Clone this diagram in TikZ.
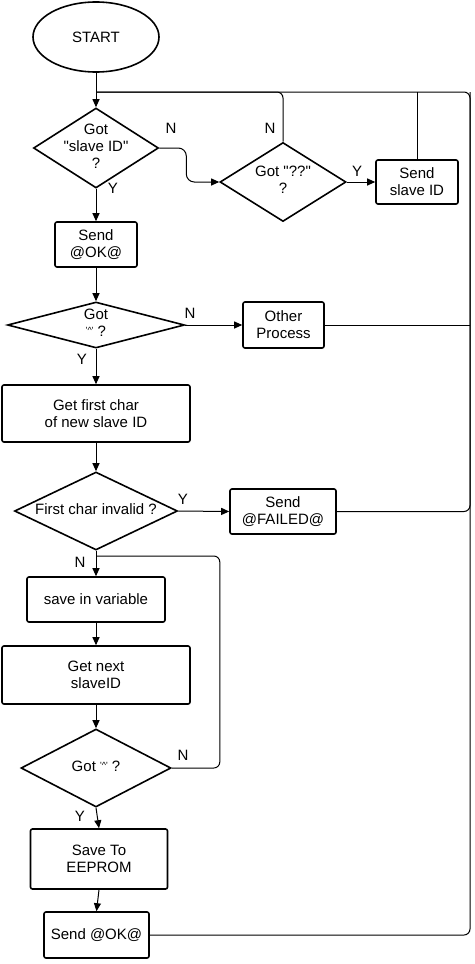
\documentclass[tikz,border=0pt]{standalone}
\usepackage{fontspec}
\setmainfont{Liberation Sans}
\usetikzlibrary{shapes.geometric,arrows.meta}
\newcommand{\dtxt}[1]{\makebox[0pt]{\begin{tabular}{@{}c@{}}#1\end{tabular}}}
\newcommand{\caret}{\raisebox{3pt}{\fontsize{9}{9}\selectfont\textquotesingle\textasciicircum\textquotesingle}}
\begin{document}
\begin{tikzpicture}[x=1pt,y=-1pt,font=\fontsize{15}{17}\selectfont,
	box/.style={draw,line width=1.6pt,rounded corners=2pt,align=center,inner sep=0pt},
	decision/.style={draw,diamond,line width=1.6pt,inner sep=0pt},
	line/.style={line width=1pt},
	arr/.style={line width=1pt,-{Triangle[length=8pt,width=7pt]}}]
		\useasboundingbox (0,0) rectangle (474,964);
		% nodes
		\node[draw,ellipse,line width=1.6pt,minimum width=126,minimum height=70] (start) at (96,37) {START};
		\node[decision,minimum width=125,minimum height=80] (d1) at (96,148) {\dtxt{Got\\\textquotedbl slave ID\textquotedbl\\?}};
		\node[decision,minimum width=126,minimum height=79] (d2) at (283,182) {\dtxt{Got \textquotedbl??\textquotedbl\\?}};
		\node[box,minimum width=82,minimum height=44] (sid) at (417,182) {Send\\slave ID};
		\node[box,minimum width=82,minimum height=45] (ok1) at (96,244.5) {Send\\@OK@};
		\node[decision,minimum width=177,minimum height=46] (d3) at (96,325) {\dtxt{Got\\\caret\ ?}};
		\node[box,minimum width=81,minimum height=46] (other) at (283.5,325) {Other\\Process};
		\node[box,minimum width=188,minimum height=57] (first) at (96,413.5) {Get first char\\of new slave ID};
		\node[decision,minimum width=163,minimum height=78] (d4) at (96,511) {\dtxt{First char invalid ?}};
		\node[box,minimum width=106,minimum height=45] (failed) at (283,511.5) {Send\\@FAILED@};
		\node[box,minimum width=138,minimum height=45] (save) at (96,599.5) {save in variable};
		\node[box,minimum width=188,minimum height=58] (next) at (96,675) {Get next\\slaveID};
		\node[decision,minimum width=150,minimum height=78] (d6) at (96,768) {\dtxt{Got \caret\ ?}};
		\node[box,minimum width=137,minimum height=60] (eeprom) at (99,859) {Save To\\EEPROM};
		\node[box,minimum width=105,minimum height=46] (ok2) at (96.5,935) {Send @OK@};
		\coordinate (top) at (96,92);
		\coordinate (tr) at (470,92);
		\coordinate (j2) at (96,556);
		% connectors
		\draw[line] (start) -- (top);
		\draw[arr] (top) -- (d1);
		\draw[arr,rounded corners=8pt] (d1.east) -- ++(27,0) |- (d2.west);
		\draw[arr] (d2.east) -- (sid.west);
		\draw[line,rounded corners=6pt] (d2.north) |- (top);
		\draw[line] (sid.north) -- (sid.north |- tr);
		\draw[line,rounded corners=6pt] (ok2.east) -| (tr) -- (top);
		\draw[arr] (d1.south) -- (ok1.north);
		\draw[arr] (ok1.south) -- (d3.north);
		\draw[arr] (d3.east) -- (other.west);
		\draw[line] (other.east) -- (other.east -| tr);
		\draw[arr] (d3.south) -- (first.north);
		\draw[arr] (first.south) -- (d4.north);
		\draw[arr] (d4.east) -- (failed.west);
		\draw[line,rounded corners=6pt] (failed.east) -| (tr);
		\draw[arr] (d4.south) -- (save.north);
		\draw[arr] (save.south) -- (next.north);
		\draw[arr] (next.south) -- (d6.north);
		\draw[line,rounded corners=6pt] (d6.east) -- ++(48,0) |- (j2);
		\draw[arr] (d6.south) -- (eeprom.north);
		\draw[arr] (eeprom.south) -- (ok2.north);
		% labels
		\node (n1) at (171,128) {N};
		\node (y1) at (113,188) {Y};
		\node (n2) at (270,128) {N};
		\node (y2) at (357,171) {Y};
		\node (n3) at (190,313) {N};
		\node (y3) at (82,359) {Y};
		\node (y4) at (183,499) {Y};
		\node (n4) at (80,562) {N};
		\node (n6) at (183,755) {N};
		\node (y6) at (80,816) {Y};
\end{tikzpicture}
\end{document}
